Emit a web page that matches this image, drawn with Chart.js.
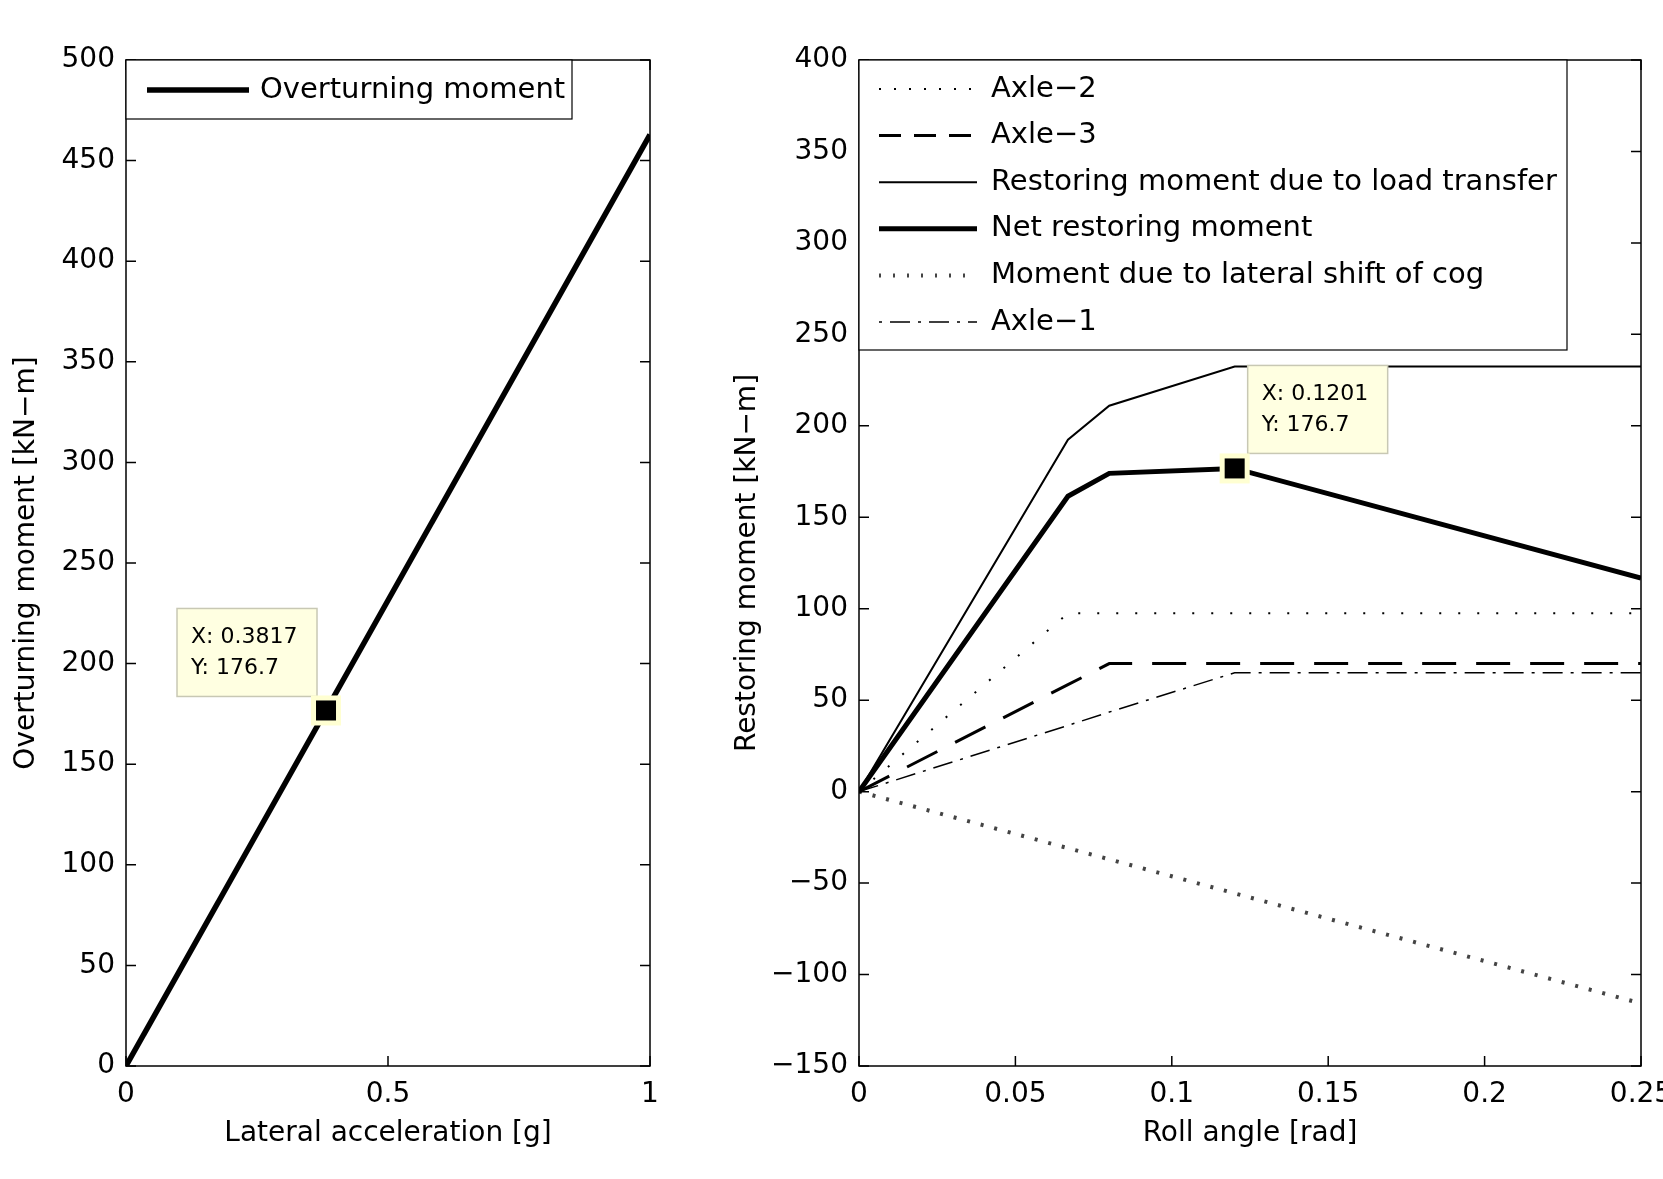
<!DOCTYPE html>
<html>
<head>
<meta charset="utf-8">
<title>Overturning and restoring moment</title>
<script src="https://cdn.jsdelivr.net/npm/chart.js@4.4.0/dist/chart.umd.min.js"></script>
<style>
  html, body { margin: 0; padding: 0; background: #fff; overflow: hidden; }
  #leftWrap { position: absolute; left: 0; top: 0; width: 700px; height: 1179px; }
  #rightWrap { position: absolute; left: 700px; top: 0; width: 963px; height: 1179px; }
</style>
</head>
<body>
<div id="leftWrap"><canvas id="leftChart"></canvas></div>
<div id="rightWrap"><canvas id="rightChart"></canvas></div>
<script>
// left panel data
const accelX = [0, 1];
const overturning = [0, 462.9];
const leftXTicks = [0, 0.5, 1];
const leftYTicks = [0, 50, 100, 150, 200, 250, 300, 350, 400, 450, 500];

// right panel data (roll angle in rad)
const rollX = [0, 0.0668, 0.08, 0.1201, 0.25];
const axle2 = [0, 97.5, 97.5, 97.5, 97.5];
const axle3 = [0, 58.5, 70, 70, 70];
const loadTransfer = [0, 192.4, 211, 232.4, 232.4];
const netRestoring = [0, 161.5, 174, 176.7, 116.7];
const lateralShift = [0, -30.9, -37, -55.6, -115.8];
const axle1 = [0, 36.2, 43.5, 65, 65];
const rightXTicks = [0, 0.05, 0.1, 0.15, 0.2, 0.25];
const rightYTicks = [-150, -100, -50, 0, 50, 100, 150, 200, 250, 300, 350, 400];

// data tips
const leftTip = { x: 0.3817, y: 176.7 };
const rightTip = { x: 0.1201, y: 176.7 };

Chart.defaults.font.family = 'DejaVu Sans';
Chart.defaults.color = '#000';

function pts(xs, ys) {
    return xs.map((x, i) => ({ x: x, y: ys[i] }));
}
function minus(v) {
    return String(v).replace('-', '\u2212');
}

// MATLAB-like box, inward ticks, boxed legend and data tip
const matlabPlugin = {
    id: 'matlab',
    afterDatasetsDraw(chart, args, opts) {
        const ctx = chart.ctx;
        const a = chart.chartArea;
        const xs = chart.scales.x, ys = chart.scales.y;
        ctx.save();
        ctx.setLineDash([]);
        ctx.strokeStyle = '#000';
        ctx.lineWidth = 1.5;
        ctx.strokeRect(a.left, a.top, a.right - a.left, a.bottom - a.top);
        const tl = opts.tickLen;
        ctx.beginPath();
        xs.ticks.forEach(t => {
            const p = xs.getPixelForValue(t.value);
            ctx.moveTo(p, a.bottom); ctx.lineTo(p, a.bottom - tl);
            ctx.moveTo(p, a.top); ctx.lineTo(p, a.top + tl);
        });
        ys.ticks.forEach(t => {
            const p = ys.getPixelForValue(t.value);
            ctx.moveTo(a.left, p); ctx.lineTo(a.left + tl, p);
            ctx.moveTo(a.right, p); ctx.lineTo(a.right - tl, p);
        });
        ctx.stroke();

        // legend
        const lg = opts.legend;
        ctx.fillStyle = '#fff';
        ctx.fillRect(lg.left, lg.top, lg.width, lg.height);
        ctx.lineWidth = 1.2;
        ctx.strokeStyle = '#000';
        ctx.strokeRect(lg.left, lg.top, lg.width, lg.height);
        ctx.font = lg.font;
        ctx.textBaseline = 'middle';
        chart.data.datasets.forEach((ds, i) => {
            const y = lg.firstRow + i * lg.rowGap;
            ctx.beginPath();
            ctx.strokeStyle = ds.borderColor;
            ctx.lineWidth = ds.borderWidth;
            ctx.setLineDash(ds.legendDash || ds.borderDash || []);
            ctx.lineCap = 'butt';
            ctx.moveTo(lg.x0, y);
            ctx.lineTo(lg.x1, y);
            ctx.stroke();
            ctx.setLineDash([]);
            ctx.fillStyle = '#000';
            ctx.fillText(ds.label, lg.textX, y);
        });

        // data tip
        const tip = opts.tip;
        const mx = xs.getPixelForValue(tip.x);
        const my = ys.getPixelForValue(tip.y);
        const bx = mx + tip.dx, by = my + tip.dy;
        ctx.fillStyle = '#ffffe1';
        ctx.fillRect(bx, by, tip.w, tip.h);
        ctx.strokeStyle = '#c8c8b4';
        ctx.lineWidth = 1.5;
        ctx.strokeRect(bx, by, tip.w, tip.h);
        ctx.fillStyle = '#000';
        ctx.font = '22px "DejaVu Sans"';
        ctx.textBaseline = 'middle';
        ctx.fillText('X: ' + tip.x, bx + 14, by + 29);
        ctx.fillText('Y: ' + tip.y, bx + 14, by + 60);
        ctx.fillStyle = '#ffffd2';
        ctx.fillRect(mx - 15, my - 15, 30, 30);
        ctx.fillStyle = '#000';
        ctx.fillRect(mx - 10, my - 10, 20, 20);
        ctx.restore();
    }
};

function fixY(width) {
    return function (scale) {
        scale.width = width;
        scale.paddingTop = 0;
        scale.paddingBottom = 0;
    };
}
function fixX(height) {
    return function (scale) {
        scale.height = height;
        scale.paddingLeft = 0;
        scale.paddingRight = 0;
    };
}
function setTicks(list) {
    return function (scale) {
        scale.ticks = list.map(v => ({ value: v }));
    };
}

const leftChart = new Chart(document.getElementById('leftChart'), {
    type: 'line',
    data: {
        datasets: [{
            label: 'Overturning moment',
            data: pts(accelX, overturning),
            borderColor: '#000',
            borderWidth: 5.5,
            pointRadius: 0
        }]
    },
    options: {
        responsive: true,
        maintainAspectRatio: false,
        animation: false,
        layout: { padding: { top: 60, right: 50, left: 0, bottom: 0 } },
        plugins: {
            legend: { display: false },
            tooltip: { enabled: false },
            matlab: {
                tickLen: 10,
                legend: { left: 126, top: 60, width: 446, height: 59, firstRow: 90, rowGap: 0,
                          x0: 147, x1: 249, textX: 260, font: '29px "DejaVu Sans"' },
                tip: { x: leftTip.x, y: leftTip.y, dx: -149, dy: -102, w: 140, h: 88 }
            }
        },
        scales: {
            x: {
                type: 'linear', min: 0, max: 1,
                afterBuildTicks: setTicks(leftXTicks),
                afterFit: fixX(113),
                grid: { display: false, drawTicks: false },
                border: { display: false },
                ticks: { padding: 12, font: { size: 28 }, callback: v => String(v) },
                title: { display: true, text: 'Lateral acceleration [g]', font: { size: 28 }, padding: { bottom: 28, top: 0 } }
            },
            y: {
                min: 0, max: 500,
                afterBuildTicks: setTicks(leftYTicks),
                afterFit: fixY(126),
                grid: { display: false, drawTicks: false },
                border: { display: false },
                ticks: { padding: 11, font: { size: 28 }, callback: v => String(v) },
                title: { display: true, text: 'Overturning moment [kN\u2212m]', font: { size: 28 }, padding: { top: 10, bottom: 0 } }
            }
        }
    },
    plugins: [matlabPlugin]
});

const rightChart = new Chart(document.getElementById('rightChart'), {
    type: 'line',
    data: {
        datasets: [{
            label: 'Axle\u22122',
            data: pts(rollX, axle2),
            borderColor: '#000',
            borderWidth: 2,
            borderDash: [2, 17],
            legendDash: [2, 13],
            pointRadius: 0
        }, {
            label: 'Axle\u22123',
            data: pts(rollX, axle3),
            borderColor: '#000',
            borderWidth: 3,
            borderDash: [34, 20],
            legendDash: [22, 13],
            pointRadius: 0
        }, {
            label: 'Restoring moment due to load transfer',
            data: pts(rollX, loadTransfer),
            borderColor: '#000',
            borderWidth: 2,
            pointRadius: 0
        }, {
            label: 'Net restoring moment',
            data: pts(rollX, netRestoring),
            borderColor: '#000',
            borderWidth: 5,
            pointRadius: 0
        }, {
            label: 'Moment due to lateral shift of cog',
            data: pts(rollX, lateralShift),
            borderColor: '#444',
            borderWidth: 4,
            borderDash: [3, 11],
            legendDash: [2, 12],
            pointRadius: 0
        }, {
            label: 'Axle\u22121',
            data: pts(rollX, axle1),
            borderColor: '#000',
            borderWidth: 1.5,
            borderDash: [20, 8, 3, 8],
            legendDash: [3, 8, 20, 8],
            pointRadius: 0
        }]
    },
    options: {
        responsive: true,
        maintainAspectRatio: false,
        animation: false,
        layout: { padding: { top: 60, right: 22, left: 0, bottom: 0 } },
        plugins: {
            legend: { display: false },
            tooltip: { enabled: false },
            matlab: {
                tickLen: 10,
                legend: { left: 159, top: 60, width: 708, height: 290, firstRow: 89, rowGap: 46.6,
                          x0: 179, x1: 277, textX: 291, font: '29px "DejaVu Sans"' },
                tip: { x: rightTip.x, y: rightTip.y, dx: 13, dy: -103, w: 140, h: 88 }
            }
        },
        scales: {
            x: {
                type: 'linear', min: 0, max: 0.25,
                afterBuildTicks: setTicks(rightXTicks),
                afterFit: fixX(113),
                grid: { display: false, drawTicks: false },
                border: { display: false },
                ticks: { padding: 12, font: { size: 28 }, callback: v => String(v) },
                title: { display: true, text: 'Roll angle [rad]', font: { size: 28 }, padding: { bottom: 28, top: 0 } }
            },
            y: {
                min: -150, max: 400,
                afterBuildTicks: setTicks(rightYTicks),
                afterFit: fixY(159),
                grid: { display: false, drawTicks: false },
                border: { display: false },
                ticks: { padding: 11, font: { size: 28 }, callback: v => minus(v) },
                title: { display: true, text: 'Restoring moment [kN\u2212m]', font: { size: 28 }, padding: { top: 31, bottom: 0 } }
            }
        }
    },
    plugins: [matlabPlugin]
});
</script>
</body>
</html>
